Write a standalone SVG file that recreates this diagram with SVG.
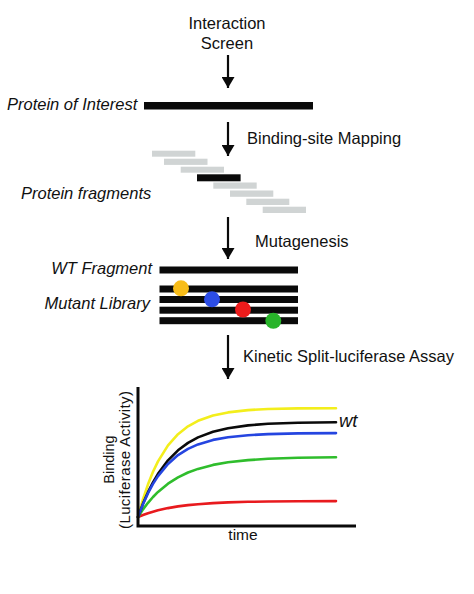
<svg xmlns="http://www.w3.org/2000/svg" width="474" height="594" viewBox="0 0 474 594">
<style>
  text { font-family: "Liberation Sans", Arial, Helvetica, sans-serif; fill: #111; }
  .lbl { font-size: 16.5px; }
  .it { font-style: italic; }
  .bar { fill: #0a0a0a; }
  .frag { fill: #d0d4d4; }
  .conn { stroke: #0a0a0a; stroke-width: 2.2; fill: none; }
  .axis { stroke: #0a0a0a; stroke-width: 3; fill: none; }
  .curve { fill: none; stroke-width: 2.6; stroke-linejoin: round; stroke-linecap: round; }
</style>
<defs>
  <marker id="ah" viewBox="0 0 11 13" refX="11" refY="6.5" markerWidth="11" markerHeight="13" markerUnits="userSpaceOnUse" orient="auto">
    <path d="M0,0 L11,6.5 L0,13 z" fill="#0a0a0a"/>
  </marker>
</defs>
<rect width="474" height="594" fill="#ffffff"/>

<g id="connectors">
  <line class="conn" x1="228" y1="55" x2="228" y2="88" marker-end="url(#ah)"/>
  <line class="conn" x1="228" y1="122" x2="228" y2="156" marker-end="url(#ah)"/>
  <line class="conn" x1="228" y1="217" x2="228" y2="259" marker-end="url(#ah)"/>
  <line class="conn" x1="228" y1="335" x2="228" y2="379" marker-end="url(#ah)"/>
</g>

<g id="step-labels">
  <text class="lbl" x="247" y="143.5">Binding-site Mapping</text>
  <text class="lbl" x="255" y="246.7">Mutagenesis</text>
  <text class="lbl" x="243" y="362">Kinetic Split-luciferase Assay</text>
</g>

<g id="interaction-screen">
  <text class="lbl" x="227" y="29.2" text-anchor="middle">Interaction</text>
  <text class="lbl" x="227" y="48.6" text-anchor="middle">Screen</text>
</g>

<g id="protein-of-interest">
  <text class="lbl it" x="7" y="110.3">Protein of Interest</text>
  <rect class="bar" x="144" y="102" width="169" height="7.5"/>
</g>

<g id="protein-fragments">
  <text class="lbl it" x="21" y="199.3">Protein fragments</text>
  <rect class="frag" x="152" y="150.7" width="43.3" height="6"/>
  <rect class="frag" x="164" y="158.7" width="43.5" height="6.2"/>
  <rect class="frag" x="180.7" y="166.7" width="43.3" height="6"/>
  <rect class="bar" x="197" y="174.3" width="43.6" height="7"/>
  <rect class="frag" x="213.3" y="182.5" width="43.4" height="6.2"/>
  <rect class="frag" x="230" y="190.5" width="43.3" height="6.3"/>
  <rect class="frag" x="246.3" y="198.7" width="43" height="6.3"/>
  <rect class="frag" x="262.7" y="206.7" width="43.3" height="6.3"/>
</g>

<g id="wt-fragment">
  <text class="lbl it" x="152" y="273.8" text-anchor="end">WT Fragment</text>
  <rect class="bar" x="159.5" y="266.5" width="138.5" height="7"/>
</g>

<g id="mutant-library">
  <text class="lbl it" x="150" y="309.2" text-anchor="end">Mutant Library</text>
  <rect class="bar" x="159.5" y="285.5" width="138.5" height="7"/>
  <rect class="bar" x="159.5" y="296" width="138.5" height="7"/>
  <rect class="bar" x="159.5" y="306.7" width="138.5" height="7"/>
  <rect class="bar" x="159.5" y="317.2" width="138.5" height="7"/>
  <circle cx="181" cy="288.3" r="8" fill="#f8bd1a"/>
  <circle cx="212" cy="299.3" r="8" fill="#2c4de6"/>
  <circle cx="243" cy="309.5" r="8" fill="#ec1b1b"/>
  <circle cx="273.3" cy="320.8" r="8" fill="#28b42a"/>
</g>

<g id="binding-plot">
  <polyline class="curve" stroke="#e81a1e" points="138,517 143,515 148,513.2 153,511.7 158,510.3 168,508.1 178,506.4 188,505.1 198,504.2 213,503.1 228,502.4 248,501.8 268,501.5 298,501.2 336,501.1"/>
  <polyline class="curve" stroke="#2fbd2c" points="138,517 143,509.4 148,502.8 153,497 158,491.9 168,483.7 178,477.4 188,472.5 198,468.9 213,464.9 228,462.3 248,460.1 268,458.8 298,457.8 336,457.3"/>
  <polyline class="curve" stroke="#f3ee1c" points="138,517 143,499.1 148,484.3 153,471.8 158,461.4 168,445.4 178,434.2 188,426.3 198,420.8 213,415.5 228,412.4 248,410.1 268,409 298,408.4 336,408.2"/>
  <polyline class="curve" stroke="#0a0a0a" stroke-width="3" points="138,517 143,503.6 148,492.2 153,482.3 158,473.8 168,460.3 178,450.3 188,442.9 198,437.4 213,431.8 228,428.2 248,425.4 268,423.8 298,422.7 336,422.2"/>
  <polyline class="curve" stroke="#2545e0" points="138,517 143,504.1 148,493.2 153,483.9 158,476.1 168,463.9 178,455.1 188,448.9 198,444.4 213,439.9 228,437.2 248,435.2 268,434.1 298,433.4 336,433.1"/>
  <path class="axis" d="M138,387 L138,526 L356,526"/>
  <text class="it" x="339" y="427.3" style="font-size:18.5px">wt</text>
  <text x="243" y="540" text-anchor="middle" style="font-size:15.5px">time</text>
  <text transform="translate(114,459.5) rotate(-90)" text-anchor="middle" style="font-size:14.5px">Binding</text>
  <text transform="translate(130,460) rotate(-90)" text-anchor="middle" style="font-size:15px" textLength="138" lengthAdjust="spacing">(Luciferase Activity)</text>
</g>
</svg>
